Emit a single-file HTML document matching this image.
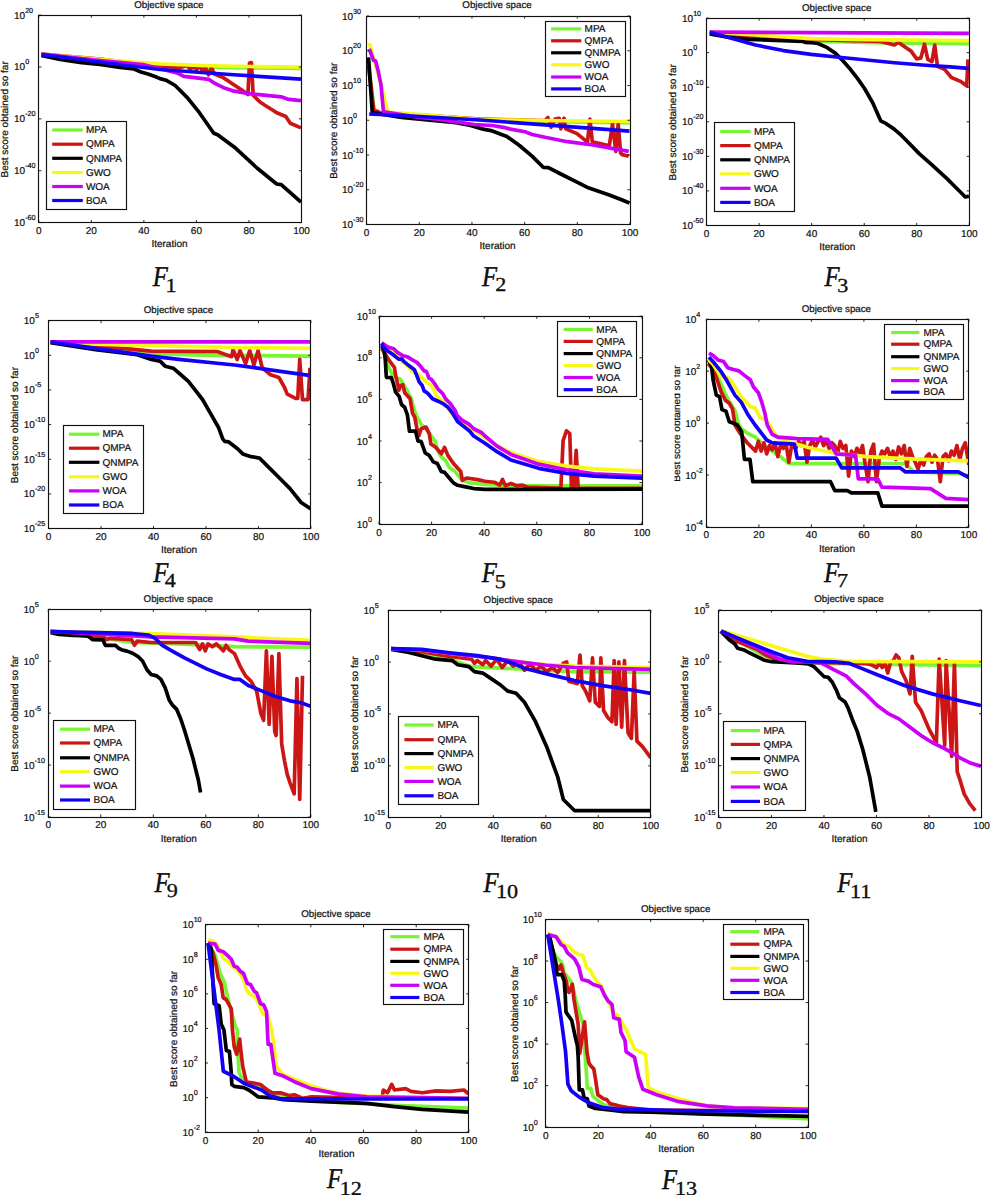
<!DOCTYPE html>
<html><head><meta charset="utf-8"><title>Convergence curves</title>
<style>
html,body{margin:0;padding:0;background:#fff;}
body{width:990px;height:1195px;overflow:hidden;}
svg{display:block;}
text{font-family:"Liberation Sans", sans-serif;fill:#111;stroke:#111;stroke-width:0.22px;text-rendering:geometricPrecision;}
</style></head><body>
<svg width="990" height="1195" viewBox="0 0 990 1195">
<rect width="990" height="1195" fill="#fff"/>
<g><clipPath id="c1"><rect x="38.8" y="15.1" width="262.7" height="207.5"/></clipPath>
<g clip-path="url(#c1)" fill="none" stroke-width="3.7" stroke-linejoin="round" stroke-linecap="butt">
<path d="M41.4 54.5 L80 58 L120 61.5 L160 65 L200 67 L250 68 L301 68.3" stroke="#78f532"/>
<path d="M41.4 54 L100 59 L160 66.5 L181.2 67.3 L187 65.5 L190.3 69.5 L193.3 66.5 L196.4 69.5 L199.4 66.5 L202.4 70.5 L205.5 67.5 L208.5 74.8 L211.5 67.5 L214.5 74.1 L223.6 77.9 L232.7 84 L241.8 90 L247.9 94.5 L249.5 63 L251.4 62.7 L253.2 95.3 L260 102 L264.5 105 L272.1 109.7 L276.7 112.7 L285.8 116.5 L290.3 123.3 L301 127.9" stroke="#cc1616"/>
<path d="M41.4 55.5 L60 59.5 L81.7 62.6 L100 64.5 L120 67.5 L134 69 L141 72 L148 74 L155 76.5 L160 78.6 L166 80.2 L175.2 85.5 L187.3 97.6 L199.4 112.7 L213.8 133.2 L217.6 134.7 L235.8 148.3 L257 168 L276.7 184 L281.2 184.7 L301 202.1" stroke="#000000"/>
<path d="M41.4 54 L80 57.5 L120 61 L160 63.9 L200 65.5 L250 66.5 L301 67" stroke="#f8f818"/>
<path d="M41.4 54 L100 60.5 L143 64.5 L160 68.8 L178 73.3 L183.9 76.4 L209 79.4 L214.5 83.2 L223.6 87.7 L232.7 90.8 L250.9 93.8 L281.2 96.8 L288.8 99.4 L301 100.6" stroke="#cc00f8"/>
<path d="M41.4 54.5 L100 62 L160 69.5 L230 74.5 L301 79.1" stroke="#1400f8"/>
</g>
<path d="M38.8 222.6v-2.6M38.8 15.1v2.6M91.34 222.6v-2.6M91.34 15.1v2.6M143.88 222.6v-2.6M143.88 15.1v2.6M196.42 222.6v-2.6M196.42 15.1v2.6M248.96 222.6v-2.6M248.96 15.1v2.6M301.5 222.6v-2.6M301.5 15.1v2.6M38.8 15.1h2.6M301.5 15.1h-2.6M38.8 66.97h2.6M301.5 66.97h-2.6M38.8 118.85h2.6M301.5 118.85h-2.6M38.8 170.72h2.6M301.5 170.72h-2.6M38.8 222.6h2.6M301.5 222.6h-2.6" stroke="#111" stroke-width="0.9" fill="none"/>
<rect x="38.5" y="15.5" width="263" height="207" fill="none" stroke="#111" stroke-width="1.15"/>
<text x="38.8" y="234" font-size="10.0" text-anchor="middle">0</text>
<text x="91.34" y="234" font-size="10.0" text-anchor="middle">20</text>
<text x="143.88" y="234" font-size="10.0" text-anchor="middle">40</text>
<text x="196.42" y="234" font-size="10.0" text-anchor="middle">60</text>
<text x="248.96" y="234" font-size="10.0" text-anchor="middle">80</text>
<text x="301.5" y="234" font-size="10.0" text-anchor="middle">100</text>
<text x="14" y="18.6" font-size="10.0">10<tspan font-size="7.2" dy="-6.0">20</tspan></text>
<text x="14" y="70.47" font-size="10.0">10<tspan font-size="7.2" dy="-6.0">0</tspan></text>
<text x="14" y="122.35" font-size="10.0">10<tspan font-size="7.2" dy="-6.0">-20</tspan></text>
<text x="14" y="174.22" font-size="10.0">10<tspan font-size="7.2" dy="-6.0">-40</tspan></text>
<text x="14" y="226.1" font-size="10.0">10<tspan font-size="7.2" dy="-6.0">-60</tspan></text>
<text x="168.85" y="7.5" font-size="9.75" text-anchor="middle">Objective space</text>
<text x="169.45" y="247.3" font-size="10.0" text-anchor="middle">Iteration</text>
<g><text transform="translate(7.8 119.35) rotate(-90)" font-size="10.0" text-anchor="middle">Best score obtained so far</text></g>
<rect x="46.5" y="121.5" width="80" height="88" fill="#fff" stroke="#111" stroke-width="1.15"/>
<path d="M52.2 130H82.8" stroke="#78f532" stroke-width="3.2"/>
<text x="85.9" y="133.2" font-size="10.0">MPA</text>
<path d="M52.2 144.2H82.8" stroke="#cc1616" stroke-width="3.2"/>
<text x="85.9" y="147.4" font-size="10.0">QMPA</text>
<path d="M52.2 158.3H82.8" stroke="#000000" stroke-width="3.2"/>
<text x="85.9" y="161.5" font-size="10.0">QNMPA</text>
<path d="M52.2 172.5H82.8" stroke="#f8f818" stroke-width="3.2"/>
<text x="85.9" y="175.7" font-size="10.0">GWO</text>
<path d="M52.2 186.5H82.8" stroke="#cc00f8" stroke-width="3.2"/>
<text x="85.9" y="189.7" font-size="10.0">WOA</text>
<path d="M52.2 200.5H82.8" stroke="#1400f8" stroke-width="3.2"/>
<text x="85.9" y="203.7" font-size="10.0">BOA</text>
<text transform="translate(152.8 285.5) scale(0.86 1)" style='font-family:"Liberation Serif", serif;font-style:italic;stroke:#000;stroke-width:0.4px' font-size="28.7">F</text>
<text transform="translate(165.6 291.6) scale(1.12 1)" style='font-family:"Liberation Serif", serif;stroke:#000;stroke-width:0.3px' font-size="19.8">1</text></g>
<g><clipPath id="c2"><rect x="366.6" y="16" width="263.4" height="208.5"/></clipPath>
<g clip-path="url(#c2)" fill="none" stroke-width="3.7" stroke-linejoin="round" stroke-linecap="butt">
<path d="M368.5 60 L374 112 L420 115 L480 120 L540 121.5 L629.5 123" stroke="#78f532"/>
<path d="M368.5 65.9 L374.1 112 L377 111 L380 113 L420 115 L480 119 L540 120.5 L545 120.5 L547.9 117.5 L551.1 127.2 L555 119 L559.2 118.3 L560.8 128.8 L564 118.3 L565.7 128.8 L577 133.6 L585 140.1 L587.5 141.7 L589.9 119.1 L592.3 141.7 L609.3 145.8 L612.5 123.9 L615.8 151.4 L618.2 123.9 L620.6 153 L622.2 154.6 L628.7 156.3" stroke="#cc1616"/>
<path d="M368.5 57.4 L372.3 112.7 L401.4 117.3 L419.5 119.1 L437.7 120.9 L455.9 122.7 L470.5 125.5 L483.2 129.1 L492.3 130.9 L506.8 136.4 L519.5 145.5 L532.3 156.4 L543.2 167.3 L548.4 167.6 L560.8 174 L577 182.1 L588.3 187.8 L609.3 195 L622.2 200 L629.5 203.1" stroke="#000000"/>
<path d="M369.3 43 L374 60 L380 80 L387.6 112 L420 114.5 L480 119.5 L540 120.5 L629.5 121.5" stroke="#f8f818"/>
<path d="M369.3 49 L373.4 60.2 L375.6 61 L378 70 L381 85 L383.5 111.8 L419.5 117.3 L437.7 119.1 L455.9 121.8 L474.1 124.5 L492.3 125.5 L503.2 127.3 L510.5 129.1 L525 131.8 L532.3 134.5 L545 137.3 L567.3 141.7 L593.1 145 L628.7 151.4" stroke="#cc00f8"/>
<path d="M369.2 114 L420 116.5 L480 120 L629.5 131.2" stroke="#1400f8"/>
</g>
<path d="M366.6 224.5v-2.6M366.6 16v2.6M419.28 224.5v-2.6M419.28 16v2.6M471.96 224.5v-2.6M471.96 16v2.6M524.64 224.5v-2.6M524.64 16v2.6M577.32 224.5v-2.6M577.32 16v2.6M630 224.5v-2.6M630 16v2.6M366.6 16h2.6M630 16h-2.6M366.6 50.75h2.6M630 50.75h-2.6M366.6 85.5h2.6M630 85.5h-2.6M366.6 120.25h2.6M630 120.25h-2.6M366.6 155h2.6M630 155h-2.6M366.6 189.75h2.6M630 189.75h-2.6M366.6 224.5h2.6M630 224.5h-2.6" stroke="#111" stroke-width="0.9" fill="none"/>
<rect x="366.5" y="16.5" width="264" height="208" fill="none" stroke="#111" stroke-width="1.15"/>
<text x="366.6" y="235.9" font-size="10.0" text-anchor="middle">0</text>
<text x="419.28" y="235.9" font-size="10.0" text-anchor="middle">20</text>
<text x="471.96" y="235.9" font-size="10.0" text-anchor="middle">40</text>
<text x="524.64" y="235.9" font-size="10.0" text-anchor="middle">60</text>
<text x="577.32" y="235.9" font-size="10.0" text-anchor="middle">80</text>
<text x="630" y="235.9" font-size="10.0" text-anchor="middle">100</text>
<text x="341.9" y="19.5" font-size="10.0">10<tspan font-size="7.2" dy="-6.0">30</tspan></text>
<text x="341.9" y="54.25" font-size="10.0">10<tspan font-size="7.2" dy="-6.0">20</tspan></text>
<text x="341.9" y="89" font-size="10.0">10<tspan font-size="7.2" dy="-6.0">10</tspan></text>
<text x="341.9" y="123.75" font-size="10.0">10<tspan font-size="7.2" dy="-6.0">0</tspan></text>
<text x="341.9" y="158.5" font-size="10.0">10<tspan font-size="7.2" dy="-6.0">-10</tspan></text>
<text x="341.9" y="193.25" font-size="10.0">10<tspan font-size="7.2" dy="-6.0">-20</tspan></text>
<text x="341.9" y="228" font-size="10.0">10<tspan font-size="7.2" dy="-6.0">-30</tspan></text>
<text x="497" y="8.4" font-size="9.75" text-anchor="middle">Objective space</text>
<text x="497.6" y="249.2" font-size="10.0" text-anchor="middle">Iteration</text>
<g><text transform="translate(336.5 120.75) rotate(-90)" font-size="10.0" text-anchor="middle">Best score obtained so far</text></g>
<rect x="545.5" y="21.5" width="80" height="75" fill="#fff" stroke="#111" stroke-width="1.15"/>
<path d="M551.1 28.9H581.3" stroke="#78f532" stroke-width="3.2"/>
<text x="584.6" y="32.1" font-size="10.0">MPA</text>
<path d="M551.1 40.8H581.3" stroke="#cc1616" stroke-width="3.2"/>
<text x="584.6" y="44" font-size="10.0">QMPA</text>
<path d="M551.1 52.8H581.3" stroke="#000000" stroke-width="3.2"/>
<text x="584.6" y="56" font-size="10.0">QNMPA</text>
<path d="M551.1 64.8H581.3" stroke="#f8f818" stroke-width="3.2"/>
<text x="584.6" y="68" font-size="10.0">GWO</text>
<path d="M551.1 77H581.3" stroke="#cc00f8" stroke-width="3.2"/>
<text x="584.6" y="80.2" font-size="10.0">WOA</text>
<path d="M551.1 88.9H581.3" stroke="#1400f8" stroke-width="3.2"/>
<text x="584.6" y="92.1" font-size="10.0">BOA</text>
<text transform="translate(482 285.5) scale(0.86 1)" style='font-family:"Liberation Serif", serif;font-style:italic;stroke:#000;stroke-width:0.4px' font-size="28.7">F</text>
<text transform="translate(495.2 291.2) scale(1.12 1)" style='font-family:"Liberation Serif", serif;stroke:#000;stroke-width:0.3px' font-size="19.8">2</text></g>
<g><clipPath id="c3"><rect x="706.6" y="18.1" width="262.7" height="207.4"/></clipPath>
<g clip-path="url(#c3)" fill="none" stroke-width="3.7" stroke-linejoin="round" stroke-linecap="butt">
<path d="M709.72 32.22 L755.56 36.67 L825 41.39 L894.44 43.06 L968.89 43.61" stroke="#78f532"/>
<path d="M709.72 32.22 L755.56 36.67 L811.11 39.44 L852.78 40.56 L880.56 41.39 L894.44 45 L898.61 42.22 L902.78 45.56 L911.11 51.11 L916.67 58.89 L920.83 58.06 L924.44 44.17 L927.78 59.44 L931.94 61.67 L934.72 45 L937.5 66.39 L944.44 69.17 L951.39 77.5 L961.11 81.67 L966.67 85.83 L968.06 59.44" stroke="#cc1616"/>
<path d="M709.72 33.89 L727.78 37.22 L750 39.44 L802.78 41.39 L805.56 42.5 L810 42.53 L818.08 43.53 L826.17 47.08 L835.25 53.14 L843.33 61.22 L850.39 69.31 L857.47 78.39 L864.53 88.47 L872.61 102.61 L880.69 120.81 L884.75 122.83 L893.83 128.89 L900.89 134.94 L905.94 140 L919.44 153.89 L930.56 163.61 L947.22 178.89 L955.56 187.22 L961.11 192.78 L965.28 196.94 L968.89 196.11" stroke="#000000"/>
<path d="M709.72 32.22 L755.56 35 L811.11 38.61 L866.67 39.72 L968.89 40.56" stroke="#f8f818"/>
<path d="M709.72 32.22 L968.89 33.33" stroke="#cc00f8"/>
<path d="M709.72 32.22 L727.78 37.22 L755.56 45 L783.33 50.56 L811.11 54.44 L838.89 57.22 L866.67 60 L894.44 62.78 L922.22 65 L950 66.94 L968.89 68.33" stroke="#1400f8"/>
</g>
<path d="M706.6 225.5v-2.6M706.6 18.1v2.6M759.14 225.5v-2.6M759.14 18.1v2.6M811.68 225.5v-2.6M811.68 18.1v2.6M864.22 225.5v-2.6M864.22 18.1v2.6M916.76 225.5v-2.6M916.76 18.1v2.6M969.3 225.5v-2.6M969.3 18.1v2.6M706.6 18.1h2.6M969.3 18.1h-2.6M706.6 52.67h2.6M969.3 52.67h-2.6M706.6 87.23h2.6M969.3 87.23h-2.6M706.6 121.8h2.6M969.3 121.8h-2.6M706.6 156.37h2.6M969.3 156.37h-2.6M706.6 190.93h2.6M969.3 190.93h-2.6M706.6 225.5h2.6M969.3 225.5h-2.6" stroke="#111" stroke-width="0.9" fill="none"/>
<rect x="706.5" y="18.5" width="263" height="207" fill="none" stroke="#111" stroke-width="1.15"/>
<text x="706.6" y="236.9" font-size="10.0" text-anchor="middle">0</text>
<text x="759.14" y="236.9" font-size="10.0" text-anchor="middle">20</text>
<text x="811.68" y="236.9" font-size="10.0" text-anchor="middle">40</text>
<text x="864.22" y="236.9" font-size="10.0" text-anchor="middle">60</text>
<text x="916.76" y="236.9" font-size="10.0" text-anchor="middle">80</text>
<text x="969.3" y="236.9" font-size="10.0" text-anchor="middle">100</text>
<text x="682" y="21.6" font-size="10.0">10<tspan font-size="7.2" dy="-6.0">10</tspan></text>
<text x="682" y="56.17" font-size="10.0">10<tspan font-size="7.2" dy="-6.0">0</tspan></text>
<text x="682" y="90.73" font-size="10.0">10<tspan font-size="7.2" dy="-6.0">-10</tspan></text>
<text x="682" y="125.3" font-size="10.0">10<tspan font-size="7.2" dy="-6.0">-20</tspan></text>
<text x="682" y="159.87" font-size="10.0">10<tspan font-size="7.2" dy="-6.0">-30</tspan></text>
<text x="682" y="194.43" font-size="10.0">10<tspan font-size="7.2" dy="-6.0">-40</tspan></text>
<text x="682" y="229" font-size="10.0">10<tspan font-size="7.2" dy="-6.0">-50</tspan></text>
<text x="836.65" y="10.5" font-size="9.75" text-anchor="middle">Objective space</text>
<text x="837.25" y="250.2" font-size="10.0" text-anchor="middle">Iteration</text>
<g><text transform="translate(676.1 122.3) rotate(-90)" font-size="10.0" text-anchor="middle">Best score obtained so far</text></g>
<rect x="714.5" y="122.5" width="80" height="89" fill="#fff" stroke="#111" stroke-width="1.15"/>
<path d="M720.2 131.5H750.5" stroke="#78f532" stroke-width="3.2"/>
<text x="753.9" y="134.7" font-size="10.0">MPA</text>
<path d="M720.2 145.6H750.5" stroke="#cc1616" stroke-width="3.2"/>
<text x="753.9" y="148.8" font-size="10.0">QMPA</text>
<path d="M720.2 159.8H750.5" stroke="#000000" stroke-width="3.2"/>
<text x="753.9" y="163" font-size="10.0">QNMPA</text>
<path d="M720.2 173.9H750.5" stroke="#f8f818" stroke-width="3.2"/>
<text x="753.9" y="177.1" font-size="10.0">GWO</text>
<path d="M720.2 188.3H750.5" stroke="#cc00f8" stroke-width="3.2"/>
<text x="753.9" y="191.5" font-size="10.0">WOA</text>
<path d="M720.2 202.4H750.5" stroke="#1400f8" stroke-width="3.2"/>
<text x="753.9" y="205.6" font-size="10.0">BOA</text>
<text transform="translate(824.5 285.9) scale(0.86 1)" style='font-family:"Liberation Serif", serif;font-style:italic;stroke:#000;stroke-width:0.4px' font-size="28.7">F</text>
<text transform="translate(837.3 291.6) scale(1.12 1)" style='font-family:"Liberation Serif", serif;stroke:#000;stroke-width:0.3px' font-size="19.8">3</text></g>
<g><clipPath id="c4"><rect x="48.6" y="320.6" width="262.3" height="208"/></clipPath>
<g clip-path="url(#c4)" fill="none" stroke-width="3.7" stroke-linejoin="round" stroke-linecap="butt">
<path d="M50.56 341.94 L95.56 347.78 L137.22 351.67 L165 353.89 L206.67 355.28 L310.83 356.11" stroke="#78f532"/>
<path d="M50.56 341.94 L95.56 346.94 L123.33 348.33 L151.11 351.11 L217.78 351.67 L231.67 356.67 L233.06 349.72 L237.22 359.44 L240 350.56 L245.56 363.61 L249.72 350.56 L253.89 365 L258.06 350.56 L262.22 367.78 L270.56 374.72 L278.89 377.5 L284.44 387.22 L287.22 394.17 L295.56 398.33 L297.78 398.33 L299.72 359.44 L302.5 399.72 L308.06 399.72 L310 367.78" stroke="#cc1616"/>
<path d="M50.56 342.78 L95.56 349.72 L137.22 354.72 L150 359.08 L160.11 361.11 L165.14 366.17 L173.22 368.19 L180.31 374.25 L188.39 381.31 L195.44 390.39 L202.53 399.5 L210.61 413.64 L218.67 427.78 L222.72 438.89 L224.75 441.42 L228.78 441.92 L237.86 448.97 L242.78 453.89 L251.11 456.67 L259.44 458.06 L267.78 466.39 L281.67 480.28 L290 488.61 L301.11 502.5 L310.83 508.89" stroke="#000000"/>
<path d="M50.56 341.94 L95.56 344.17 L151.11 345.56 L234.44 347.5 L310.83 348.33" stroke="#f8f818"/>
<path d="M50.56 341.94 L310.83 341.94" stroke="#cc00f8"/>
<path d="M50.56 341.94 L95.56 348.33 L151.11 356.11 L178.89 359.44 L234.44 365 L310.83 375.56" stroke="#1400f8"/>
</g>
<path d="M48.6 528.6v-2.6M48.6 320.6v2.6M101.06 528.6v-2.6M101.06 320.6v2.6M153.52 528.6v-2.6M153.52 320.6v2.6M205.98 528.6v-2.6M205.98 320.6v2.6M258.44 528.6v-2.6M258.44 320.6v2.6M310.9 528.6v-2.6M310.9 320.6v2.6M48.6 320.6h2.6M310.9 320.6h-2.6M48.6 355.27h2.6M310.9 355.27h-2.6M48.6 389.93h2.6M310.9 389.93h-2.6M48.6 424.6h2.6M310.9 424.6h-2.6M48.6 459.27h2.6M310.9 459.27h-2.6M48.6 493.93h2.6M310.9 493.93h-2.6M48.6 528.6h2.6M310.9 528.6h-2.6" stroke="#111" stroke-width="0.9" fill="none"/>
<rect x="48.5" y="320.5" width="262" height="208" fill="none" stroke="#111" stroke-width="1.15"/>
<text x="48.6" y="540" font-size="10.0" text-anchor="middle">0</text>
<text x="101.06" y="540" font-size="10.0" text-anchor="middle">20</text>
<text x="153.52" y="540" font-size="10.0" text-anchor="middle">40</text>
<text x="205.98" y="540" font-size="10.0" text-anchor="middle">60</text>
<text x="258.44" y="540" font-size="10.0" text-anchor="middle">80</text>
<text x="310.9" y="540" font-size="10.0" text-anchor="middle">100</text>
<text x="23.8" y="324.1" font-size="10.0">10<tspan font-size="7.2" dy="-6.0">5</tspan></text>
<text x="23.8" y="358.77" font-size="10.0">10<tspan font-size="7.2" dy="-6.0">0</tspan></text>
<text x="23.8" y="393.43" font-size="10.0">10<tspan font-size="7.2" dy="-6.0">-5</tspan></text>
<text x="23.8" y="428.1" font-size="10.0">10<tspan font-size="7.2" dy="-6.0">-10</tspan></text>
<text x="23.8" y="462.77" font-size="10.0">10<tspan font-size="7.2" dy="-6.0">-15</tspan></text>
<text x="23.8" y="497.43" font-size="10.0">10<tspan font-size="7.2" dy="-6.0">-20</tspan></text>
<text x="23.8" y="532.1" font-size="10.0">10<tspan font-size="7.2" dy="-6.0">-25</tspan></text>
<text x="178.45" y="313" font-size="9.75" text-anchor="middle">Objective space</text>
<text x="179.05" y="553.3" font-size="10.0" text-anchor="middle">Iteration</text>
<g><text transform="translate(18.1 425.1) rotate(-90)" font-size="10.0" text-anchor="middle">Best score obtained so far</text></g>
<rect x="63.5" y="425.5" width="80" height="88" fill="#fff" stroke="#111" stroke-width="1.15"/>
<path d="M68.9 434.2H99.4" stroke="#78f532" stroke-width="3.2"/>
<text x="102.5" y="437.4" font-size="10.0">MPA</text>
<path d="M68.9 448.2H99.4" stroke="#cc1616" stroke-width="3.2"/>
<text x="102.5" y="451.4" font-size="10.0">QMPA</text>
<path d="M68.9 462.3H99.4" stroke="#000000" stroke-width="3.2"/>
<text x="102.5" y="465.5" font-size="10.0">QNMPA</text>
<path d="M68.9 476.8H99.4" stroke="#f8f818" stroke-width="3.2"/>
<text x="102.5" y="480" font-size="10.0">GWO</text>
<path d="M68.9 490.9H99.4" stroke="#cc00f8" stroke-width="3.2"/>
<text x="102.5" y="494.1" font-size="10.0">WOA</text>
<path d="M68.9 505H99.4" stroke="#1400f8" stroke-width="3.2"/>
<text x="102.5" y="508.2" font-size="10.0">BOA</text>
<text transform="translate(153.2 581.7) scale(0.86 1)" style='font-family:"Liberation Serif", serif;font-style:italic;stroke:#000;stroke-width:0.4px' font-size="28.7">F</text>
<text transform="translate(164.8 587.4) scale(1.12 1)" style='font-family:"Liberation Serif", serif;stroke:#000;stroke-width:0.3px' font-size="19.8">4</text></g>
<g><clipPath id="c5"><rect x="379" y="316.2" width="263" height="208"/></clipPath>
<g clip-path="url(#c5)" fill="none" stroke-width="3.7" stroke-linejoin="round" stroke-linecap="butt">
<path d="M381.64 344.72 L385.28 356.67 L387.11 363.61 L392.5 375.19 L396.81 377.61 L400.39 379.39 L404.11 385.5 L410.69 397.61 L414.39 410.31 L417.11 416.94 L421.17 424.69 L425.19 427.92 L434.89 440.86 L437.33 449.75 L441.36 457.03 L445.42 460.25 L449.44 467.53 L455.11 471.56 L461.56 479.64 L469.64 482.89 L485 484.5 L510.89 485.56 L642 485.83" stroke="#78f532"/>
<path d="M381.64 348.19 L385.28 354.25 L388.89 360 L394.39 367.31 L395.58 375.19 L398 385.5 L398.89 390.31 L400.39 385.5 L402.81 384.81 L404.69 392.69 L410.11 398.81 L412.5 413.31 L414.69 416.94 L417.11 429.56 L418.75 436 L421.17 428.75 L426 427.11 L429.25 433.58 L430.86 444.08 L435.69 447.33 L441.36 453.78 L444.58 447.33 L447.83 455.42 L453.47 463.47 L460.75 471.56 L462.36 480.44 L466.42 478.03 L477.72 479.64 L485 481.25 L494.22 482.22 L499.78 485 L502.56 479.44 L505.33 485.56 L510.89 483.61 L516.44 485.56 L522 485 L527.56 487.22 L555.33 488.06 L560.89 488.06 L563.11 440.56 L566.44 430.83 L569.78 433.61 L571.44 488.06 L573.94 488.06 L576.17 450.28 L578.11 488.06 L642 488.33" stroke="#cc1616"/>
<path d="M381.64 345.75 L384.06 349.39 L385.31 360 L386.19 375.19 L386.5 377.31 L391.31 377.61 L393.19 383 L395.58 392.11 L399.19 396.39 L401.61 404.81 L404.69 407.31 L407.42 415 L409.44 431.17 L415.5 431.17 L417.92 440.86 L421.17 441.67 L425.19 452.97 L429.25 455.42 L433.28 461.86 L437.33 463.47 L441.36 471.56 L444.58 472.36 L448.64 477.22 L453.47 482.89 L457.53 485.31 L465.61 486.92 L473.69 488.53 L485 489.33 L642 489.17" stroke="#000000"/>
<path d="M381.64 343.33 L388.92 346.97 L396.19 354.25 L402.19 361.67 L408.31 366.36 L411.89 371.5 L418 373.89 L424.11 380 L429.5 384.19 L432.5 386.69 L435.61 393.89 L438 397.61 L443.47 401.53 L450.72 412.44 L456.81 418.5 L469.22 426.67 L483.11 436.39 L497 445.56 L510.89 452.5 L538.67 461.39 L566.44 466.11 L594.22 468.89 L642 471.11" stroke="#f8f818"/>
<path d="M381.64 342.78 L387.69 346.97 L393.75 348.78 L397.39 352.42 L402.25 355.44 L407.08 356.67 L411.94 359.69 L416.81 362.39 L420.39 366.08 L424.11 370.89 L426.5 371.5 L428.89 378.19 L431.31 379.39 L435 384.19 L438 389.11 L442.25 393.03 L445.89 399.08 L450.72 403.94 L455.58 411.22 L456.72 415 L461.56 419.86 L469.64 424.69 L473.69 428.75 L481.78 432.78 L485 436 L497 446.11 L510.89 454.44 L538.67 464.17 L566.44 469.72 L594.22 473.89 L642 476.11" stroke="#cc00f8"/>
<path d="M381.64 343.33 L385.28 349.39 L392.56 354.25 L398.61 359.08 L402.25 359.08 L403.5 361.19 L409.5 366.08 L414.39 369.72 L417.39 377 L419.19 381.81 L422.19 385.5 L424.11 390.89 L427.69 393.31 L432.5 398.81 L438 401.19 L443.47 403.94 L448.31 407.58 L452.67 413.33 L457.53 421.47 L469.64 431.17 L473.69 436 L485 443.28 L497 451.67 L510.89 460 L538.67 468.33 L566.44 473.33 L594.22 476.11 L642 478.06" stroke="#1400f8"/>
</g>
<path d="M379 524.2v-2.6M379 316.2v2.6M431.6 524.2v-2.6M431.6 316.2v2.6M484.2 524.2v-2.6M484.2 316.2v2.6M536.8 524.2v-2.6M536.8 316.2v2.6M589.4 524.2v-2.6M589.4 316.2v2.6M642 524.2v-2.6M642 316.2v2.6M379 316.2h2.6M642 316.2h-2.6M379 357.8h2.6M642 357.8h-2.6M379 399.4h2.6M642 399.4h-2.6M379 441h2.6M642 441h-2.6M379 482.6h2.6M642 482.6h-2.6M379 524.2h2.6M642 524.2h-2.6" stroke="#111" stroke-width="0.9" fill="none"/>
<rect x="379.5" y="316.5" width="263" height="208" fill="none" stroke="#111" stroke-width="1.15"/>
<text x="379" y="535.6" font-size="10.0" text-anchor="middle">0</text>
<text x="431.6" y="535.6" font-size="10.0" text-anchor="middle">20</text>
<text x="484.2" y="535.6" font-size="10.0" text-anchor="middle">40</text>
<text x="536.8" y="535.6" font-size="10.0" text-anchor="middle">60</text>
<text x="589.4" y="535.6" font-size="10.0" text-anchor="middle">80</text>
<text x="642" y="535.6" font-size="10.0" text-anchor="middle">100</text>
<text x="356.8" y="319.7" font-size="10.0">10<tspan font-size="7.2" dy="-6.0">10</tspan></text>
<text x="356.8" y="361.3" font-size="10.0">10<tspan font-size="7.2" dy="-6.0">8</tspan></text>
<text x="356.8" y="402.9" font-size="10.0">10<tspan font-size="7.2" dy="-6.0">6</tspan></text>
<text x="356.8" y="444.5" font-size="10.0">10<tspan font-size="7.2" dy="-6.0">4</tspan></text>
<text x="356.8" y="486.1" font-size="10.0">10<tspan font-size="7.2" dy="-6.0">2</tspan></text>
<text x="356.8" y="527.7" font-size="10.0">10<tspan font-size="7.2" dy="-6.0">0</tspan></text>
<rect x="557.5" y="321.5" width="79" height="75" fill="#fff" stroke="#111" stroke-width="1.15"/>
<path d="M563.7 329.4H592.8" stroke="#78f532" stroke-width="3.2"/>
<text x="596.3" y="332.6" font-size="10.0">MPA</text>
<path d="M563.7 341.4H592.8" stroke="#cc1616" stroke-width="3.2"/>
<text x="596.3" y="344.6" font-size="10.0">QMPA</text>
<path d="M563.7 353.6H592.8" stroke="#000000" stroke-width="3.2"/>
<text x="596.3" y="356.8" font-size="10.0">QNMPA</text>
<path d="M563.7 365.6H592.8" stroke="#f8f818" stroke-width="3.2"/>
<text x="596.3" y="368.8" font-size="10.0">GWO</text>
<path d="M563.7 377.5H592.8" stroke="#cc00f8" stroke-width="3.2"/>
<text x="596.3" y="380.7" font-size="10.0">WOA</text>
<path d="M563.7 389.7H592.8" stroke="#1400f8" stroke-width="3.2"/>
<text x="596.3" y="392.9" font-size="10.0">BOA</text>
<text transform="translate(481.8 582.2) scale(0.86 1)" style='font-family:"Liberation Serif", serif;font-style:italic;stroke:#000;stroke-width:0.4px' font-size="28.7">F</text>
<text transform="translate(494.8 587.5) scale(1.12 1)" style='font-family:"Liberation Serif", serif;stroke:#000;stroke-width:0.3px' font-size="19.8">5</text></g>
<g><clipPath id="c7"><rect x="706.4" y="319.2" width="262.5" height="207.8"/></clipPath>
<g clip-path="url(#c7)" fill="none" stroke-width="3.7" stroke-linejoin="round" stroke-linecap="butt">
<path d="M708.22 360.36 L713.89 369.25 L718.75 378.94 L725.19 393.47 L729.25 401.56 L734.89 410.44 L738.94 425 L741.67 428.89 L747.22 433.06 L755.56 437.22 L763.89 445.56 L772.22 451.11 L780.56 456.67 L788.89 463.61 L905.56 463.61 L913.89 471.94 L958.33 473.33 L968.89 476.11" stroke="#78f532"/>
<path d="M708.22 363.58 L713.89 370.86 L717.11 379.75 L721.17 391.86 L725.19 399.94 L729.25 403.19 L732.47 408.83 L734.08 419.33 L734.89 425 L738.89 431.67 L747.22 442.78 L755.56 451.11 L758.33 441.39 L761.11 451.11 L763.89 442.78 L766.67 453.89 L769.44 445.56 L772.22 449.72 L775 442.78 L777.78 456.67 L780.56 445.56 L783.33 448.33 L786.11 444.17 L788.89 462.22 L791.67 445.56 L795.83 448.33 L798.61 441.39 L801.39 445.56 L804.17 441.39 L806.94 462.22 L809.72 445.56 L812.5 440 L815.28 446.94 L818.06 441.39 L820.83 437.22 L823.61 445.56 L826.39 440 L829.17 448.33 L831.94 442.78 L834.72 445.56 L837.5 453.89 L840.28 441.39 L843.06 448.33 L845.83 445.56 L848.61 476.11 L851.39 451.11 L854.17 456.67 L856.94 448.33 L859.72 453.89 L862.5 445.56 L865.28 465 L868.06 481.67 L870.83 451.11 L873.61 444.17 L876.39 481.67 L879.17 459.44 L881.94 451.11 L884.72 453.89 L887.5 448.33 L890.28 456.67 L893.06 451.11 L895.83 459.44 L898.61 446.94 L901.39 453.89 L904.17 445.56 L906.94 466.39 L909.72 448.33 L912.5 456.67 L915.28 462.22 L918.06 469.17 L920.83 459.44 L923.61 465 L926.39 456.67 L929.17 453.89 L931.94 462.22 L934.72 455.28 L937.5 459.44 L940.28 481.67 L943.06 456.67 L945.83 453.89 L948.61 460.83 L951.39 451.11 L954.17 455.28 L956.94 445.56 L959.72 459.44 L962.5 448.33 L965.28 442.78 L968.89 465" stroke="#cc1616"/>
<path d="M708.22 359.56 L711.47 366 L713.08 379.75 L716.31 395.11 L719.56 396.72 L721.97 409.64 L726 411.25 L729.25 421.78 L734.08 423.39 L737.33 425 L741.67 431.67 L744.44 459.44 L750 459.44 L752.78 481.67 L830.56 481.67 L834.72 490.56 L847.22 490.56 L851.39 492.78 L877.78 492.78 L881.94 506.11 L968.89 506.11" stroke="#000000"/>
<path d="M708.22 359.56 L713.08 364.39 L717.92 371.67 L721.17 376.67 L727.64 377.33 L731.67 381.36 L736.53 389.44 L740.56 395.92 L745.42 401.56 L750.25 406.42 L755.11 408.03 L759.94 417.72 L765.61 419.33 L769.64 425 L775 434.44 L783.33 440 L797.22 444.17 L811.11 448.33 L825 451.11 L838.89 453.89 L866.67 456.67 L894.44 458.06 L922.22 459.44 L968.89 460.83" stroke="#f8f818"/>
<path d="M709.03 353.08 L713.08 355.5 L717.92 359.94 L723.58 361.56 L727.64 367.64 L732.47 369.25 L738.94 370.86 L743.78 374.89 L750.25 379.75 L753.47 387.03 L758.33 392.67 L761.56 401.56 L764.81 412.89 L767.22 425 L772.22 434.44 L777.78 437.22 L797.22 438.61 L827.78 439.44 L836.11 453.89 L855.56 455.28 L858.33 478.89 L877.78 478.89 L881.94 487.22 L930.56 488.61 L945.83 498.33 L968.89 499.72" stroke="#cc00f8"/>
<path d="M709.03 357.11 L714.69 363.58 L721.17 371.67 L726.81 380.56 L734.89 395.11 L741.36 402.36 L747.83 414.5 L755.11 425 L766.67 440 L772.22 442.78 L794.44 444.17 L797.22 458.06 L836.11 458.06 L841.67 467.78 L900 467.78 L905.56 471.94 L958.33 471.94 L968.89 477.5" stroke="#1400f8"/>
</g>
<path d="M706.4 527v-2.6M706.4 319.2v2.6M758.9 527v-2.6M758.9 319.2v2.6M811.4 527v-2.6M811.4 319.2v2.6M863.9 527v-2.6M863.9 319.2v2.6M916.4 527v-2.6M916.4 319.2v2.6M968.9 527v-2.6M968.9 319.2v2.6M706.4 319.2h2.6M968.9 319.2h-2.6M706.4 371.15h2.6M968.9 371.15h-2.6M706.4 423.1h2.6M968.9 423.1h-2.6M706.4 475.05h2.6M968.9 475.05h-2.6M706.4 527h2.6M968.9 527h-2.6" stroke="#111" stroke-width="0.9" fill="none"/>
<rect x="706.5" y="319.5" width="262" height="208" fill="none" stroke="#111" stroke-width="1.15"/>
<text x="706.4" y="538.4" font-size="10.0" text-anchor="middle">0</text>
<text x="758.9" y="538.4" font-size="10.0" text-anchor="middle">20</text>
<text x="811.4" y="538.4" font-size="10.0" text-anchor="middle">40</text>
<text x="863.9" y="538.4" font-size="10.0" text-anchor="middle">60</text>
<text x="916.4" y="538.4" font-size="10.0" text-anchor="middle">80</text>
<text x="968.9" y="538.4" font-size="10.0" text-anchor="middle">100</text>
<text x="685.2" y="322.7" font-size="10.0">10<tspan font-size="7.2" dy="-6.0">4</tspan></text>
<text x="685.2" y="374.65" font-size="10.0">10<tspan font-size="7.2" dy="-6.0">2</tspan></text>
<text x="685.2" y="426.6" font-size="10.0">10<tspan font-size="7.2" dy="-6.0">0</tspan></text>
<text x="685.2" y="478.55" font-size="10.0">10<tspan font-size="7.2" dy="-6.0">-2</tspan></text>
<text x="685.2" y="530.5" font-size="10.0">10<tspan font-size="7.2" dy="-6.0">-4</tspan></text>
<text x="836.35" y="311.6" font-size="9.75" text-anchor="middle">Objective space</text>
<text x="836.95" y="551.7" font-size="10.0" text-anchor="middle">Iteration</text>
<clipPath id="yc7"><rect x="674.5" y="299.2" width="60" height="247.8"/></clipPath>
<g clip-path="url(#yc7)"><text transform="translate(679.8 423.6) rotate(-90)" font-size="10.0" text-anchor="middle">Best score obtained so far</text></g>
<rect x="884.5" y="324.5" width="79" height="75" fill="#fff" stroke="#111" stroke-width="1.15"/>
<path d="M891.1 332.5H919.4" stroke="#78f532" stroke-width="3.2"/>
<text x="923.5" y="335.7" font-size="10.0">MPA</text>
<path d="M891.1 344.2H919.4" stroke="#cc1616" stroke-width="3.2"/>
<text x="923.5" y="347.4" font-size="10.0">QMPA</text>
<path d="M891.1 356.7H919.4" stroke="#000000" stroke-width="3.2"/>
<text x="923.5" y="359.9" font-size="10.0">QNMPA</text>
<path d="M891.1 368.6H919.4" stroke="#f8f818" stroke-width="3.2"/>
<text x="923.5" y="371.8" font-size="10.0">GWO</text>
<path d="M891.1 380.6H919.4" stroke="#cc00f8" stroke-width="3.2"/>
<text x="923.5" y="383.8" font-size="10.0">WOA</text>
<path d="M891.1 392.2H919.4" stroke="#1400f8" stroke-width="3.2"/>
<text x="923.5" y="395.4" font-size="10.0">BOA</text>
<text transform="translate(824.1 581.7) scale(0.86 1)" style='font-family:"Liberation Serif", serif;font-style:italic;stroke:#000;stroke-width:0.4px' font-size="28.7">F</text>
<text transform="translate(836.9 587.4) scale(1.12 1)" style='font-family:"Liberation Serif", serif;stroke:#000;stroke-width:0.3px' font-size="19.8">7</text></g>
<g><clipPath id="c9"><rect x="48.3" y="609.3" width="262.5" height="207.7"/></clipPath>
<g clip-path="url(#c9)" fill="none" stroke-width="3.7" stroke-linejoin="round" stroke-linecap="butt">
<path d="M50.56 631.39 L95.56 636.94 L131.67 642.5 L178.89 643.89 L234.44 646.67 L310.83 647.22" stroke="#78f532"/>
<path d="M50.56 631.39 L95.56 636.94 L103.89 636.94 L106.67 639.72 L109.44 638.33 L131.67 639.72 L134.44 645.28 L137.22 641.11 L151.11 642.5 L195.56 642.5 L199.72 649.44 L202.5 643.89 L205.28 650.83 L208.06 643.89 L212.22 646.67 L216.39 643.89 L220.56 648.06 L223.33 650.83 L226.11 645.28 L228.89 649.44 L234.44 653.61 L240 666.11 L245.56 675.83 L251.11 681.39 L256.67 691.11 L260.83 713.33 L263.61 720.28 L266.39 650.83 L269.17 724.44 L271.94 656.39 L274.72 731.39 L276.11 735.56 L278.89 653.61 L281.67 743.89 L284.44 760.56 L287.22 774.44 L290 782.78 L294.17 793.89 L296.94 678.61 L299.72 799.44 L302.5 675.83" stroke="#cc1616"/>
<path d="M50.67 632.78 L59.14 634.31 L73.28 635.28 L87.42 635.97 L90.25 637.67 L92.36 639.58 L102.97 639.81 L104.39 643.33 L105.53 645.44 L115.69 645.44 L118.53 648.28 L121.36 649.69 L127 651.11 L132.67 653.22 L138.31 656.75 L142.56 661 L146.81 669.5 L151.06 674.44 L156.69 675.86 L160.94 679.39 L165.19 687.86 L169.42 700.58 L172.25 704.83 L176.5 709.08 L180.75 718.97 L184.44 730 L192.78 757.78 L198.33 780 L200.56 792.5" stroke="#000000"/>
<path d="M50.56 631.39 L151.11 633.61 L234.44 636.94 L310.83 640.28" stroke="#f8f818"/>
<path d="M50.56 631.39 L151.11 636.94 L234.44 638.89 L248.33 641.11 L310.83 643.33" stroke="#cc00f8"/>
<path d="M50.56 631.67 L132.67 633.47 L148.22 635 L155.28 638.39 L162.36 645.44 L172.25 651.11 L184.97 658.17 L206.67 668.89 L220.56 674.44 L234.44 679.44 L240 679.44 L248.33 685.56 L262.22 691.11 L276.11 696.67 L290 700.83 L301.11 702.78 L310.83 706.39" stroke="#1400f8"/>
</g>
<path d="M48.3 817v-2.6M48.3 609.3v2.6M100.8 817v-2.6M100.8 609.3v2.6M153.3 817v-2.6M153.3 609.3v2.6M205.8 817v-2.6M205.8 609.3v2.6M258.3 817v-2.6M258.3 609.3v2.6M310.8 817v-2.6M310.8 609.3v2.6M48.3 609.3h2.6M310.8 609.3h-2.6M48.3 661.22h2.6M310.8 661.22h-2.6M48.3 713.15h2.6M310.8 713.15h-2.6M48.3 765.08h2.6M310.8 765.08h-2.6M48.3 817h2.6M310.8 817h-2.6" stroke="#111" stroke-width="0.9" fill="none"/>
<rect x="48.5" y="609.5" width="262" height="208" fill="none" stroke="#111" stroke-width="1.15"/>
<text x="48.3" y="828.4" font-size="10.0" text-anchor="middle">0</text>
<text x="100.8" y="828.4" font-size="10.0" text-anchor="middle">20</text>
<text x="153.3" y="828.4" font-size="10.0" text-anchor="middle">40</text>
<text x="205.8" y="828.4" font-size="10.0" text-anchor="middle">60</text>
<text x="258.3" y="828.4" font-size="10.0" text-anchor="middle">80</text>
<text x="310.8" y="828.4" font-size="10.0" text-anchor="middle">100</text>
<text x="23.5" y="612.8" font-size="10.0">10<tspan font-size="7.2" dy="-6.0">5</tspan></text>
<text x="23.5" y="664.72" font-size="10.0">10<tspan font-size="7.2" dy="-6.0">0</tspan></text>
<text x="23.5" y="716.65" font-size="10.0">10<tspan font-size="7.2" dy="-6.0">-5</tspan></text>
<text x="23.5" y="768.58" font-size="10.0">10<tspan font-size="7.2" dy="-6.0">-10</tspan></text>
<text x="23.5" y="820.5" font-size="10.0">10<tspan font-size="7.2" dy="-6.0">-15</tspan></text>
<text x="178.25" y="601.7" font-size="9.75" text-anchor="middle">Objective space</text>
<text x="178.85" y="841.7" font-size="10.0" text-anchor="middle">Iteration</text>
<g><text transform="translate(17.8 713.65) rotate(-90)" font-size="10.0" text-anchor="middle">Best score obtained so far</text></g>
<rect x="53.5" y="720.5" width="82" height="89" fill="#fff" stroke="#111" stroke-width="1.15"/>
<path d="M60 729.2H90" stroke="#78f532" stroke-width="3.2"/>
<text x="93.5" y="732.4" font-size="10.0">MPA</text>
<path d="M60 743H90" stroke="#cc1616" stroke-width="3.2"/>
<text x="93.5" y="746.2" font-size="10.0">QMPA</text>
<path d="M60 757.8H90" stroke="#000000" stroke-width="3.2"/>
<text x="93.5" y="761" font-size="10.0">QNMPA</text>
<path d="M60 771.7H90" stroke="#f8f818" stroke-width="3.2"/>
<text x="93.5" y="774.9" font-size="10.0">GWO</text>
<path d="M60 786.1H90" stroke="#cc00f8" stroke-width="3.2"/>
<text x="93.5" y="789.3" font-size="10.0">WOA</text>
<path d="M60 800H90" stroke="#1400f8" stroke-width="3.2"/>
<text x="93.5" y="803.2" font-size="10.0">BOA</text>
<text transform="translate(154.4 891.5) scale(0.86 1)" style='font-family:"Liberation Serif", serif;font-style:italic;stroke:#000;stroke-width:0.4px' font-size="28.7">F</text>
<text transform="translate(166.8 897.2) scale(1.12 1)" style='font-family:"Liberation Serif", serif;stroke:#000;stroke-width:0.3px' font-size="19.8">9</text></g>
<g><clipPath id="c10"><rect x="388.3" y="610.2" width="262.5" height="207.5"/></clipPath>
<g clip-path="url(#c10)" fill="none" stroke-width="3.7" stroke-linejoin="round" stroke-linecap="butt">
<path d="M391.11 648.61 L421.67 652.22 L449.44 659.17 L471.67 666.67 L505 668.33 L546.67 670.28 L574.44 671.67 L650.83 672.22" stroke="#78f532"/>
<path d="M391.11 648.61 L421.67 651.67 L449.44 656.39 L471.67 659.17 L474.44 663.33 L477.22 660.56 L482.78 664.72 L485.56 660.56 L491.11 666.11 L496.67 659.17 L502.22 667.5 L507.78 660.56 L513.33 666.11 L518.89 661.94 L524.44 670.28 L530 663.33 L535.56 670.28 L541.11 666.11 L546.67 671.67 L552.22 667.5 L557.78 672.5 L563.33 663.33 L566.67 661.94 L568.89 681.39 L574.44 682.78 L577.22 683.61 L580 655 L582.22 685.56 L585.56 691.11 L589.72 700.83 L592.5 657.78 L595.28 702.22 L599.44 706.39 L600.83 657.78 L603.61 710.56 L607.78 717.5 L611.94 721.67 L614.17 660.56 L616.11 724.44 L618.89 661.94 L621.67 727.22 L624.44 660.56 L628.06 732.78 L631.39 738.33 L634.17 671.67 L636.94 741.11 L642.5 746.67 L650.83 757.78" stroke="#cc1616"/>
<path d="M391.11 649.44 L407.78 652.22 L418.89 655 L435.56 659.17 L452.22 660.56 L457.78 664.72 L468.89 666.67 L474.44 671.67 L482.78 673.06 L491.11 678.61 L499.44 684.17 L507.78 691.11 L516.11 693.33 L524.44 702.22 L535.56 721.67 L546.67 746.67 L557.78 777.22 L563.33 799.44 L568.89 805 L574.44 810.56 L650.83 810.56" stroke="#000000"/>
<path d="M391.11 648.61 L421.67 650 L463.33 655 L491.11 657.78 L518.89 661.94 L546.67 664.72 L574.44 666.11 L650.83 667.5" stroke="#f8f818"/>
<path d="M391.11 648.61 L421.67 650 L463.33 655 L491.11 657.78 L518.89 661.94 L546.67 665.28 L574.44 667.5 L650.83 669.44" stroke="#cc00f8"/>
<path d="M391.11 648.61 L421.67 649.44 L449.44 652.78 L477.22 655.56 L499.44 659.17 L513.33 663.33 L524.44 668.33 L546.67 673.89 L574.44 680.56 L602.22 685.56 L630 689.72 L650.83 693.33" stroke="#1400f8"/>
</g>
<path d="M388.3 817.7v-2.6M388.3 610.2v2.6M440.8 817.7v-2.6M440.8 610.2v2.6M493.3 817.7v-2.6M493.3 610.2v2.6M545.8 817.7v-2.6M545.8 610.2v2.6M598.3 817.7v-2.6M598.3 610.2v2.6M650.8 817.7v-2.6M650.8 610.2v2.6M388.3 610.2h2.6M650.8 610.2h-2.6M388.3 662.08h2.6M650.8 662.08h-2.6M388.3 713.95h2.6M650.8 713.95h-2.6M388.3 765.83h2.6M650.8 765.83h-2.6M388.3 817.7h2.6M650.8 817.7h-2.6" stroke="#111" stroke-width="0.9" fill="none"/>
<rect x="388.5" y="610.5" width="262" height="207" fill="none" stroke="#111" stroke-width="1.15"/>
<text x="388.3" y="829.1" font-size="10.0" text-anchor="middle">0</text>
<text x="440.8" y="829.1" font-size="10.0" text-anchor="middle">20</text>
<text x="493.3" y="829.1" font-size="10.0" text-anchor="middle">40</text>
<text x="545.8" y="829.1" font-size="10.0" text-anchor="middle">60</text>
<text x="598.3" y="829.1" font-size="10.0" text-anchor="middle">80</text>
<text x="650.8" y="829.1" font-size="10.0" text-anchor="middle">100</text>
<text x="363.5" y="613.7" font-size="10.0">10<tspan font-size="7.2" dy="-6.0">5</tspan></text>
<text x="363.5" y="665.58" font-size="10.0">10<tspan font-size="7.2" dy="-6.0">0</tspan></text>
<text x="363.5" y="717.45" font-size="10.0">10<tspan font-size="7.2" dy="-6.0">-5</tspan></text>
<text x="363.5" y="769.33" font-size="10.0">10<tspan font-size="7.2" dy="-6.0">-10</tspan></text>
<text x="363.5" y="821.2" font-size="10.0">10<tspan font-size="7.2" dy="-6.0">-15</tspan></text>
<text x="518.25" y="602.6" font-size="9.75" text-anchor="middle">Objective space</text>
<text x="518.85" y="842.4" font-size="10.0" text-anchor="middle">Iteration</text>
<g><text transform="translate(357.8 714.45) rotate(-90)" font-size="10.0" text-anchor="middle">Best score obtained so far</text></g>
<rect x="398.5" y="716.5" width="80" height="88" fill="#fff" stroke="#111" stroke-width="1.15"/>
<path d="M404.4 725H433.6" stroke="#78f532" stroke-width="3.2"/>
<text x="437.4" y="728.2" font-size="10.0">MPA</text>
<path d="M404.4 739.7H433.6" stroke="#cc1616" stroke-width="3.2"/>
<text x="437.4" y="742.9" font-size="10.0">QMPA</text>
<path d="M404.4 753.6H433.6" stroke="#000000" stroke-width="3.2"/>
<text x="437.4" y="756.8" font-size="10.0">QNMPA</text>
<path d="M404.4 767.5H433.6" stroke="#f8f818" stroke-width="3.2"/>
<text x="437.4" y="770.7" font-size="10.0">GWO</text>
<path d="M404.4 781.4H433.6" stroke="#cc00f8" stroke-width="3.2"/>
<text x="437.4" y="784.6" font-size="10.0">WOA</text>
<path d="M404.4 795.8H433.6" stroke="#1400f8" stroke-width="3.2"/>
<text x="437.4" y="799" font-size="10.0">BOA</text>
<text transform="translate(483.5 891.5) scale(0.86 1)" style='font-family:"Liberation Serif", serif;font-style:italic;stroke:#000;stroke-width:0.4px' font-size="28.7">F</text>
<text transform="translate(495.9 897.6) scale(1.12 1)" style='font-family:"Liberation Serif", serif;stroke:#000;stroke-width:0.3px' font-size="19.8">10</text></g>
<g><clipPath id="c11"><rect x="718.9" y="610" width="262.7" height="207.6"/></clipPath>
<g clip-path="url(#c11)" fill="none" stroke-width="3.7" stroke-linejoin="round" stroke-linecap="butt">
<path d="M721.11 630.83 L737.78 641.11 L765.56 656.39 L779.44 660.56 L821.11 663.33 L980.83 665.56" stroke="#78f532"/>
<path d="M721.11 630.83 L732.22 639.72 L743.33 643.89 L757.22 649.44 L765.56 655 L779.44 660.56 L793.33 661.94 L865.56 663.33 L871.11 664.72 L876.67 667.5 L879.44 663.33 L882.22 667.5 L885 663.33 L887.78 673.06 L890.56 661.94 L893.33 660.56 L896.11 655 L898.89 657.78 L901.67 671.67 L905.83 680 L910 693.89 L912.22 656.39 L915.56 702.22 L921.11 710.56 L929.44 730 L936.39 742.5 L939.17 659.17 L944.72 745.28 L946.11 660.56 L951.67 756.39 L954.44 661.94 L957.22 771.67 L960 780 L964.17 793.89 L969.72 803.61 L975.28 810.56" stroke="#cc1616"/>
<path d="M720.67 631.31 L724.89 635.56 L729.14 639.81 L734.81 644.03 L737.61 648.28 L743.28 649.69 L748.94 652.53 L754.58 655.36 L760.25 658.17 L764.5 660.31 L771.56 661.72 L799.83 663.11 L808.31 663.83 L813.97 666.67 L819.64 672.31 L823.86 676.56 L828.11 677.25 L832.36 682.22 L836.58 690.69 L839.42 697.78 L845.08 702 L847.92 707.67 L852.14 718.97 L857.22 731.39 L862.78 749.44 L869.72 777.22 L875.83 811.94" stroke="#000000"/>
<path d="M721.11 630.83 L737.78 635.56 L765.56 643.89 L793.33 652.22 L807.22 656.39 L821.11 659.17 L848.89 661.39 L980.83 661.94" stroke="#f8f818"/>
<path d="M721.11 631.39 L737.78 638.33 L765.56 652.22 L779.44 659.17 L793.33 661.94 L807.22 661.94 L821.11 662.78 L832.22 668.89 L846.11 675.83 L854.44 684.17 L865.56 693.89 L876.67 705 L887.78 713.33 L898.89 718.89 L910 727.22 L921.11 735.56 L932.22 742.5 L946.11 749.44 L960 757.78 L971.11 763.33 L980.83 766.11" stroke="#cc00f8"/>
<path d="M721.11 630.83 L737.78 638.33 L765.56 649.44 L787.78 657.78 L807.22 661.39 L835 661.94 L848.89 663.33 L862.78 668.89 L876.67 674.44 L904.44 685.56 L932.22 693.89 L960 700.83 L980.83 705.56" stroke="#1400f8"/>
</g>
<path d="M718.9 817.6v-2.6M718.9 610v2.6M771.44 817.6v-2.6M771.44 610v2.6M823.98 817.6v-2.6M823.98 610v2.6M876.52 817.6v-2.6M876.52 610v2.6M929.06 817.6v-2.6M929.06 610v2.6M981.6 817.6v-2.6M981.6 610v2.6M718.9 610h2.6M981.6 610h-2.6M718.9 661.9h2.6M981.6 661.9h-2.6M718.9 713.8h2.6M981.6 713.8h-2.6M718.9 765.7h2.6M981.6 765.7h-2.6M718.9 817.6h2.6M981.6 817.6h-2.6" stroke="#111" stroke-width="0.9" fill="none"/>
<rect x="718.5" y="610.5" width="263" height="207" fill="none" stroke="#111" stroke-width="1.15"/>
<text x="718.9" y="829" font-size="10.0" text-anchor="middle">0</text>
<text x="771.44" y="829" font-size="10.0" text-anchor="middle">20</text>
<text x="823.98" y="829" font-size="10.0" text-anchor="middle">40</text>
<text x="876.52" y="829" font-size="10.0" text-anchor="middle">60</text>
<text x="929.06" y="829" font-size="10.0" text-anchor="middle">80</text>
<text x="981.6" y="829" font-size="10.0" text-anchor="middle">100</text>
<text x="694.1" y="613.5" font-size="10.0">10<tspan font-size="7.2" dy="-6.0">5</tspan></text>
<text x="694.1" y="665.4" font-size="10.0">10<tspan font-size="7.2" dy="-6.0">0</tspan></text>
<text x="694.1" y="717.3" font-size="10.0">10<tspan font-size="7.2" dy="-6.0">-5</tspan></text>
<text x="694.1" y="769.2" font-size="10.0">10<tspan font-size="7.2" dy="-6.0">-10</tspan></text>
<text x="694.1" y="821.1" font-size="10.0">10<tspan font-size="7.2" dy="-6.0">-15</tspan></text>
<text x="848.95" y="602.4" font-size="9.75" text-anchor="middle">Objective space</text>
<text x="849.55" y="842.3" font-size="10.0" text-anchor="middle">Iteration</text>
<g><text transform="translate(688.4 714.3) rotate(-90)" font-size="10.0" text-anchor="middle">Best score obtained so far</text></g>
<rect x="723.5" y="721.5" width="82" height="89" fill="#fff" stroke="#111" stroke-width="1.15"/>
<path d="M730.8 730.6H760" stroke="#78f532" stroke-width="3.2"/>
<text x="763.5" y="733.8" font-size="10.0">MPA</text>
<path d="M730.8 744.4H760" stroke="#cc1616" stroke-width="3.2"/>
<text x="763.5" y="747.6" font-size="10.0">QMPA</text>
<path d="M730.8 758.6H760" stroke="#000000" stroke-width="3.2"/>
<text x="763.5" y="761.8" font-size="10.0">QNMPA</text>
<path d="M730.8 772.5H760" stroke="#f8f818" stroke-width="3.2"/>
<text x="763.5" y="775.7" font-size="10.0">GWO</text>
<path d="M730.8 787H760" stroke="#cc00f8" stroke-width="3.2"/>
<text x="763.5" y="790.2" font-size="10.0">WOA</text>
<path d="M730.8 801.4H760" stroke="#1400f8" stroke-width="3.2"/>
<text x="763.5" y="804.6" font-size="10.0">BOA</text>
<text transform="translate(837.2 891.5) scale(0.86 1)" style='font-family:"Liberation Serif", serif;font-style:italic;stroke:#000;stroke-width:0.4px' font-size="28.7">F</text>
<text transform="translate(849.9 897.6) scale(1.12 1)" style='font-family:"Liberation Serif", serif;stroke:#000;stroke-width:0.3px' font-size="19.8">11</text></g>
<g><clipPath id="c12"><rect x="205.5" y="924.7" width="263.4" height="207.5"/></clipPath>
<g clip-path="url(#c12)" fill="none" stroke-width="3.7" stroke-linejoin="round" stroke-linecap="butt">
<path d="M208.03 943.08 L215.11 955.19 L220.14 973.39 L224.19 981.47 L228.22 999.64 L231.25 1011.75 L235.31 1025.89 L237.28 1030 L237.89 1054.25 L239.08 1072.42 L243.33 1081.53 L249.39 1082.72 L261.53 1088.19 L269.44 1092.78 L283.33 1096.94 L311.11 1100.56 L338.89 1102.5 L366.67 1103.89 L394.44 1105.28 L468.89 1108.06" stroke="#78f532"/>
<path d="M209.03 944.08 L213.08 953.19 L216.11 965.31 L218.14 977.42 L221.17 984.5 L223.19 997.61 L226.22 999.64 L231.25 1008.72 L232.42 1030 L234.25 1046.97 L236.67 1054.25 L239.69 1039.08 L240.92 1051.22 L242.72 1066.36 L246.36 1082.11 L252.42 1082.72 L260.31 1084.56 L267.58 1090 L272.22 1092.78 L280.56 1092.78 L288.89 1095.56 L294.44 1094.72 L302.78 1098.33 L311.11 1096.94 L381.94 1098.33 L383.33 1090 L387.5 1092.78 L391.67 1084.44 L394.44 1090 L405.56 1088.61 L411.11 1091.39 L422.22 1092.78 L436.11 1090.83 L450 1091.39 L463.89 1090 L468.89 1094.17" stroke="#cc1616"/>
<path d="M208.03 943.08 L211.11 948.33 L214.08 1003.69 L219.14 1005.69 L221.17 1023.89 L223.94 1030 L226.36 1050.61 L229.39 1051.22 L231.22 1072.42 L231.83 1084.56 L234.25 1086.36 L243.94 1087.58 L248.78 1090 L258.33 1096.94 L272.22 1097.78 L283.33 1099.72 L311.11 1101.11 L366.67 1103.33 L394.44 1106.67 L422.22 1109.44 L468.89 1112.22" stroke="#000000"/>
<path d="M208.03 940.06 L213.08 941.06 L217.11 945.11 L220.14 951.17 L223.19 958.22 L227.22 961.25 L231.25 965.31 L238.33 971.36 L243.39 979.44 L246.42 989.56 L249.44 993.58 L255.5 997.61 L259.56 1005.69 L262.58 1013.78 L267.61 1015.81 L271.67 1029.94 L273.61 1042.78 L276.39 1066.39 L283.33 1074.72 L297.22 1080.28 L311.11 1085.83 L325 1090 L338.89 1093.33 L366.67 1096.11 L468.89 1098.33" stroke="#f8f818"/>
<path d="M208.03 943.08 L215.11 944.08 L218.14 950.14 L223.19 951.67 L228.22 956.22 L231.25 959.25 L234.28 966.31 L237.33 967.33 L240.36 971.36 L243.39 973.39 L247.42 983.47 L250.44 984.5 L254.5 991.56 L256.5 992.58 L260.56 1003.69 L263.58 1004.69 L266.61 1011.75 L267.61 1035 L268.19 1044.44 L270.83 1044.44 L275 1073.33 L283.33 1076.11 L294.44 1081.67 L311.11 1088.61 L325 1091.39 L338.89 1094.17 L366.67 1096.94 L468.89 1098.33" stroke="#cc00f8"/>
<path d="M208.03 943.08 L219.08 1030 L220.31 1042.11 L223.33 1071.22 L234.25 1076.67 L243.94 1083.33 L261.53 1090 L269.44 1095.56 L280.56 1098.89 L311.11 1098.89 L468.89 1098.89" stroke="#1400f8"/>
</g>
<path d="M205.5 1132.2v-2.6M205.5 924.7v2.6M258.18 1132.2v-2.6M258.18 924.7v2.6M310.86 1132.2v-2.6M310.86 924.7v2.6M363.54 1132.2v-2.6M363.54 924.7v2.6M416.22 1132.2v-2.6M416.22 924.7v2.6M468.9 1132.2v-2.6M468.9 924.7v2.6M205.5 924.7h2.6M468.9 924.7h-2.6M205.5 959.28h2.6M468.9 959.28h-2.6M205.5 993.87h2.6M468.9 993.87h-2.6M205.5 1028.45h2.6M468.9 1028.45h-2.6M205.5 1063.03h2.6M468.9 1063.03h-2.6M205.5 1097.62h2.6M468.9 1097.62h-2.6M205.5 1132.2h2.6M468.9 1132.2h-2.6" stroke="#111" stroke-width="0.9" fill="none"/>
<rect x="205.5" y="924.5" width="263" height="208" fill="none" stroke="#111" stroke-width="1.15"/>
<text x="205.5" y="1143.6" font-size="10.0" text-anchor="middle">0</text>
<text x="258.18" y="1143.6" font-size="10.0" text-anchor="middle">20</text>
<text x="310.86" y="1143.6" font-size="10.0" text-anchor="middle">40</text>
<text x="363.54" y="1143.6" font-size="10.0" text-anchor="middle">60</text>
<text x="416.22" y="1143.6" font-size="10.0" text-anchor="middle">80</text>
<text x="468.9" y="1143.6" font-size="10.0" text-anchor="middle">100</text>
<text x="182.5" y="928.2" font-size="10.0">10<tspan font-size="7.2" dy="-6.0">10</tspan></text>
<text x="182.5" y="962.78" font-size="10.0">10<tspan font-size="7.2" dy="-6.0">8</tspan></text>
<text x="182.5" y="997.37" font-size="10.0">10<tspan font-size="7.2" dy="-6.0">6</tspan></text>
<text x="182.5" y="1031.95" font-size="10.0">10<tspan font-size="7.2" dy="-6.0">4</tspan></text>
<text x="182.5" y="1066.53" font-size="10.0">10<tspan font-size="7.2" dy="-6.0">2</tspan></text>
<text x="182.5" y="1101.12" font-size="10.0">10<tspan font-size="7.2" dy="-6.0">0</tspan></text>
<text x="182.5" y="1135.7" font-size="10.0">10<tspan font-size="7.2" dy="-6.0">-2</tspan></text>
<text x="335.9" y="917.1" font-size="9.75" text-anchor="middle">Objective space</text>
<text x="336.5" y="1156.9" font-size="10.0" text-anchor="middle">Iteration</text>
<g><text transform="translate(177.4 1028.95) rotate(-90)" font-size="10.0" text-anchor="middle">Best score obtained so far</text></g>
<rect x="383.5" y="929.5" width="80" height="75" fill="#fff" stroke="#111" stroke-width="1.15"/>
<path d="M390.3 936.7H419.4" stroke="#78f532" stroke-width="3.2"/>
<text x="423.5" y="939.9" font-size="10.0">MPA</text>
<path d="M390.3 949.2H419.4" stroke="#cc1616" stroke-width="3.2"/>
<text x="423.5" y="952.4" font-size="10.0">QMPA</text>
<path d="M390.3 961.4H419.4" stroke="#000000" stroke-width="3.2"/>
<text x="423.5" y="964.6" font-size="10.0">QNMPA</text>
<path d="M390.3 973.3H419.4" stroke="#f8f818" stroke-width="3.2"/>
<text x="423.5" y="976.5" font-size="10.0">GWO</text>
<path d="M390.3 985.3H419.4" stroke="#cc00f8" stroke-width="3.2"/>
<text x="423.5" y="988.5" font-size="10.0">WOA</text>
<path d="M390.3 997.5H419.4" stroke="#1400f8" stroke-width="3.2"/>
<text x="423.5" y="1000.7" font-size="10.0">BOA</text>
<text transform="translate(327.1 1188.4) scale(0.86 1)" style='font-family:"Liberation Serif", serif;font-style:italic;stroke:#000;stroke-width:0.4px' font-size="28.7">F</text>
<text transform="translate(339.7 1194.9) scale(1.12 1)" style='font-family:"Liberation Serif", serif;stroke:#000;stroke-width:0.3px' font-size="19.8">12</text></g>
<g><clipPath id="c13"><rect x="545.7" y="919.5" width="262.5" height="207.7"/></clipPath>
<g clip-path="url(#c13)" fill="none" stroke-width="3.7" stroke-linejoin="round" stroke-linecap="butt">
<path d="M547.78 935 L552.92 950.39 L556.17 956.86 L561 961.69 L562.61 964.92 L564.22 974.61 L565.83 974.61 L570.69 981.08 L572.78 986.39 L575.69 1000 L582.97 1024.25 L584.58 1048.47 L586.11 1068.33 L587.33 1088.28 L590.56 1088.28 L592.97 1096.36 L597.83 1100.42 L603.47 1104.44 L611.56 1107.67 L623.69 1110.11 L678.89 1112.78 L734.44 1115 L808.89 1118.89" stroke="#78f532"/>
<path d="M547.78 935 L549.69 938.28 L556.17 964.92 L559.39 968.97 L561 964.92 L563.42 973 L566.67 982.69 L567.47 990.78 L569.08 992.39 L572.31 984.31 L574.08 1000 L578.14 1024.25 L579.75 1053.33 L584.58 1021.81 L587.03 1052.53 L588.89 1062.78 L590.56 1065.67 L593.78 1068.89 L595.56 1079.44 L597.83 1094.75 L603.47 1098.78 L606.72 1099.58 L609.94 1103.64 L619.64 1106.06 L627.72 1107.67 L651.11 1110 L706.67 1110.56 L734.44 1110 L808.89 1109.44" stroke="#cc1616"/>
<path d="M547.78 935 L549.69 936.67 L556.17 964.92 L556.97 974.61 L561.81 974.61 L564.22 981.08 L565.28 996.11 L566 1012.11 L571.67 1020.19 L575.69 1038.78 L577.33 1045.25 L578.14 1056.56 L579.25 1089.89 L582.47 1089.89 L584.08 1097.97 L587.33 1098.78 L588.94 1106.06 L595.42 1108.47 L611.56 1110.11 L623.69 1111.72 L651.11 1112.22 L706.67 1114.17 L808.89 1116.39" stroke="#000000"/>
<path d="M547.78 933.33 L549.72 934.17 L556.11 936.67 L564.17 944.72 L569.17 946.39 L573.89 951.94 L578.89 954.44 L582.78 955.28 L586.94 968.06 L590 969.72 L593.33 976.11 L598.06 982.78 L601.39 985.83 L604.72 995.56 L609.44 1003.61 L613.61 1012.78 L617.78 1015.56 L626.11 1029.44 L634.44 1048.89 L642.78 1053.06 L645.56 1054.44 L648.33 1087.78 L656.67 1091.94 L678.89 1098.89 L706.67 1105.83 L734.44 1107.78 L808.89 1108.61" stroke="#f8f818"/>
<path d="M547.78 934.44 L556.11 936.67 L561.11 944.72 L564.17 946.39 L567.5 952.78 L572.22 956.94 L574.72 959.17 L578.89 967.22 L581.94 979.44 L588.33 981.11 L593.33 984.44 L600.56 986.67 L604.72 995.56 L607.78 1000.56 L611.11 1003.61 L612.08 1004.86 L613.69 1017.78 L619.33 1019.39 L620.97 1032.33 L625 1040.42 L626.11 1051.67 L634.44 1057.22 L638.61 1076.67 L642.78 1089.17 L656.67 1094.72 L678.89 1101.67 L706.67 1105.83 L734.44 1107.78 L808.89 1109.44" stroke="#cc00f8"/>
<path d="M547.78 934.44 L558.33 1000 L562.22 1026.67 L565.56 1051.67 L567.92 1084.25 L571.17 1090.69 L579.25 1097.17 L588.94 1102.83 L603.47 1107.67 L619.64 1109.31 L635 1109.44 L678.89 1110.56 L808.89 1111.39" stroke="#1400f8"/>
</g>
<path d="M545.7 1127.2v-2.6M545.7 919.5v2.6M598.2 1127.2v-2.6M598.2 919.5v2.6M650.7 1127.2v-2.6M650.7 919.5v2.6M703.2 1127.2v-2.6M703.2 919.5v2.6M755.7 1127.2v-2.6M755.7 919.5v2.6M808.2 1127.2v-2.6M808.2 919.5v2.6M545.7 919.5h2.6M808.2 919.5h-2.6M545.7 961.04h2.6M808.2 961.04h-2.6M545.7 1002.58h2.6M808.2 1002.58h-2.6M545.7 1044.12h2.6M808.2 1044.12h-2.6M545.7 1085.66h2.6M808.2 1085.66h-2.6M545.7 1127.2h2.6M808.2 1127.2h-2.6" stroke="#111" stroke-width="0.9" fill="none"/>
<rect x="545.5" y="919.5" width="263" height="208" fill="none" stroke="#111" stroke-width="1.15"/>
<text x="545.7" y="1138.6" font-size="10.0" text-anchor="middle">0</text>
<text x="598.2" y="1138.6" font-size="10.0" text-anchor="middle">20</text>
<text x="650.7" y="1138.6" font-size="10.0" text-anchor="middle">40</text>
<text x="703.2" y="1138.6" font-size="10.0" text-anchor="middle">60</text>
<text x="755.7" y="1138.6" font-size="10.0" text-anchor="middle">80</text>
<text x="808.2" y="1138.6" font-size="10.0" text-anchor="middle">100</text>
<text x="522.7" y="923" font-size="10.0">10<tspan font-size="7.2" dy="-6.0">10</tspan></text>
<text x="522.7" y="964.54" font-size="10.0">10<tspan font-size="7.2" dy="-6.0">8</tspan></text>
<text x="522.7" y="1006.08" font-size="10.0">10<tspan font-size="7.2" dy="-6.0">6</tspan></text>
<text x="522.7" y="1047.62" font-size="10.0">10<tspan font-size="7.2" dy="-6.0">4</tspan></text>
<text x="522.7" y="1089.16" font-size="10.0">10<tspan font-size="7.2" dy="-6.0">2</tspan></text>
<text x="522.7" y="1130.7" font-size="10.0">10<tspan font-size="7.2" dy="-6.0">0</tspan></text>
<text x="675.65" y="911.9" font-size="9.75" text-anchor="middle">Objective space</text>
<text x="676.25" y="1151.9" font-size="10.0" text-anchor="middle">Iteration</text>
<g><text transform="translate(517.6 1023.85) rotate(-90)" font-size="10.0" text-anchor="middle">Best score obtained so far</text></g>
<rect x="723.5" y="924.5" width="80" height="75" fill="#fff" stroke="#111" stroke-width="1.15"/>
<path d="M730.3 931.7H759.4" stroke="#78f532" stroke-width="3.2"/>
<text x="763.5" y="934.9" font-size="10.0">MPA</text>
<path d="M730.3 944.2H759.4" stroke="#cc1616" stroke-width="3.2"/>
<text x="763.5" y="947.4" font-size="10.0">QMPA</text>
<path d="M730.3 956.4H759.4" stroke="#000000" stroke-width="3.2"/>
<text x="763.5" y="959.6" font-size="10.0">QNMPA</text>
<path d="M730.3 968.3H759.4" stroke="#f8f818" stroke-width="3.2"/>
<text x="763.5" y="971.5" font-size="10.0">GWO</text>
<path d="M730.3 980.3H759.4" stroke="#cc00f8" stroke-width="3.2"/>
<text x="763.5" y="983.5" font-size="10.0">WOA</text>
<path d="M730.3 992.5H759.4" stroke="#1400f8" stroke-width="3.2"/>
<text x="763.5" y="995.7" font-size="10.0">BOA</text>
<text transform="translate(662 1188.7) scale(0.86 1)" style='font-family:"Liberation Serif", serif;font-style:italic;stroke:#000;stroke-width:0.4px' font-size="28.7">F</text>
<text transform="translate(674.9 1194.5) scale(1.12 1)" style='font-family:"Liberation Serif", serif;stroke:#000;stroke-width:0.3px' font-size="19.8">13</text></g>
</svg>
</body></html>
